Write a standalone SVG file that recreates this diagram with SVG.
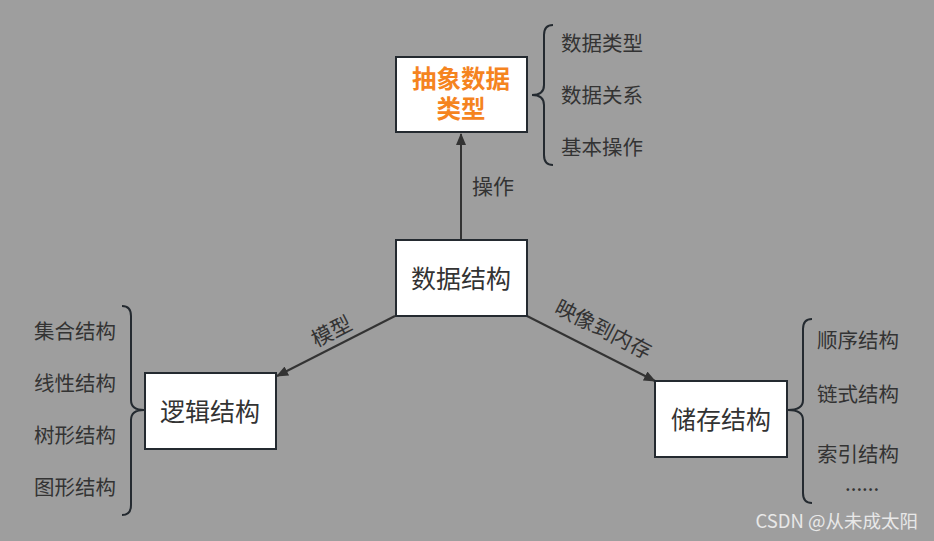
<svg xmlns="http://www.w3.org/2000/svg" width="934" height="541" viewBox="0 0 934 541">
<style>
.box{fill:#fff;stroke:#242a30;stroke-width:2}
.t{font-family:"Noto Sans CJK SC","Microsoft YaHei",sans-serif;fill:#333;}
.big{font-size:25px;text-anchor:middle;dominant-baseline:central}
.item{font-size:20.5px;dominant-baseline:central}
.lbl{font-size:21px;text-anchor:middle;dominant-baseline:central}
.br{fill:none;stroke:#242a30;stroke-width:2}
.ln{stroke:#333;stroke-width:2;fill:none}
</style>
<defs>
<marker id="ah" viewBox="0 0 12 10" refX="11" refY="5" markerWidth="12" markerHeight="10" markerUnits="userSpaceOnUse" orient="auto">
<path d="M0,0 L12,5 L0,10 Z" fill="#333"/>
</marker>
</defs>
<rect width="934" height="541" fill="#9e9e9e"/>
<g id="connectors">
<line class="ln" x1="461" y1="240" x2="461" y2="134" marker-end="url(#ah)"/>
<line class="ln" x1="395" y1="316" x2="277" y2="376" marker-end="url(#ah)"/>
<line class="ln" x1="527" y1="316" x2="655" y2="381" marker-end="url(#ah)"/>
<text class="t lbl" x="493" y="185">操作</text>
<text class="t lbl" transform="translate(331,330) rotate(-27)">模型</text>
<text class="t lbl" transform="translate(604,328) rotate(27)">映像到内存</text>
</g>
<g id="adt">
<rect class="box" x="396" y="57" width="131" height="75"/>
<text x="461" y="88" text-anchor="middle" style="font-family:'Noto Sans CJK SC',sans-serif;font-size:24.5px;font-weight:bold;fill:#f5841f"><tspan x="461" y="88">抽象数据</tspan><tspan x="461" y="118">类型</tspan></text>
<path class="br" d="M553,25 Q544,25 544,35 L544,85 Q544,95 532,95 Q544,95 544,105 L544,155 Q544,165 553,165"/>
<text class="t item" x="561" y="42">数据类型</text>
<text class="t item" x="561" y="94">数据关系</text>
<text class="t item" x="561" y="146">基本操作</text>
</g>
<g id="ds">
<rect class="box" x="396" y="240" width="131" height="76"/>
<text class="t big" x="461" y="277">数据结构</text>
</g>
<g id="logic">
<rect class="box" x="145" y="373" width="131" height="76"/>
<text class="t big" x="210" y="410">逻辑结构</text>
<path class="br" d="M122,306 Q131,306 131,316 L131,400 Q131,410 144,410 Q131,410 131,420 L131,505 Q131,515 122,515"/>
<text class="t item" x="116" y="330" text-anchor="end">集合结构</text>
<text class="t item" x="116" y="382" text-anchor="end">线性结构</text>
<text class="t item" x="116" y="434" text-anchor="end">树形结构</text>
<text class="t item" x="116" y="486" text-anchor="end">图形结构</text>
</g>
<g id="storage">
<rect class="box" x="655" y="381" width="132" height="76"/>
<text class="t big" x="721" y="418">储存结构</text>
<path class="br" d="M812,319 Q803,319 803,329 L803,400 Q803,410 788,410 Q803,410 803,420 L803,493 Q803,503 812,503"/>
<text class="t item" x="817" y="339">顺序结构</text>
<text class="t item" x="817" y="393">链式结构</text>
<text class="t item" x="817" y="453">索引结构</text>
<text class="t item" x="845" y="482">......</text>
</g>
<text x="918" y="520" text-anchor="end" dominant-baseline="central" style="font-family:'Noto Sans CJK SC',sans-serif;font-size:18.5px;fill:#e8e8e8">CSDN @从未成太阳</text>
</svg>
